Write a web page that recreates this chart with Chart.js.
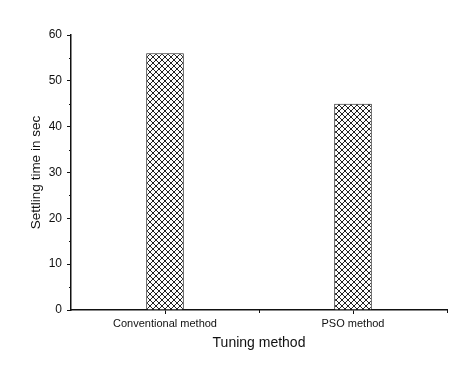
<!DOCTYPE html>
<html>
<head>
<meta charset="utf-8">
<script src="https://cdn.jsdelivr.net/npm/chart.js@4"></script>
<style>
html,body{margin:0;padding:0;background:#fff;}
#wrap{width:474px;height:383px;}
</style>
</head>
<body>
<div id="wrap"><canvas id="c" width="474" height="383"></canvas></div>
<script>
const categories = ["Conventional method", "PSO method"];
const settlingTime = [56, 45];
const yMin = 0, yMax = 60, yStep = 10;
const yMinorTicks = [5, 15, 25, 35, 45, 55];
const xMinorTicks = [0.5, 1.5];
const xTitle = "Tuning method";
const yTitle = "Settling time in sec";

function makeHatch() {
  const p = document.createElement('canvas');
  p.width = 6; p.height = 6;
  const g = p.getContext('2d');
  g.fillStyle = '#fff';
  g.fillRect(0, 0, 6, 6);
  g.strokeStyle = '#222';
  g.lineWidth = 1;
  g.beginPath();
  g.moveTo(0, 0); g.lineTo(6, 6);
  g.moveTo(6, 0); g.lineTo(0, 6);
  g.stroke();
  return document.getElementById('c').getContext('2d').createPattern(p, 'repeat');
}

const minorTicks = {
  id: 'minorTicks',
  afterDraw(chart) {
    const ctx = chart.ctx;
    const y = chart.scales.y, x = chart.scales.x;
    ctx.save();
    ctx.strokeStyle = '#111';
    ctx.lineWidth = 1;
    ctx.beginPath();
    yMinorTicks.forEach(v => {
      const py = Math.round(y.getPixelForValue(v)) + 0.5;
      ctx.moveTo(x.left - 2, py); ctx.lineTo(x.left, py);
    });
    xMinorTicks.forEach(v => {
      const px = Math.round(x.getPixelForValue(v)) + 0.5;
      ctx.moveTo(px, y.bottom); ctx.lineTo(px, y.bottom + 3);
    });
    ctx.stroke();
    ctx.restore();
  }
};

Chart.defaults.font.family = '"Liberation Sans", Arial, sans-serif';
Chart.defaults.color = '#111';

new Chart(document.getElementById('c'), {
  type: 'bar',
  data: {
    labels: categories,
    datasets: [{
      data: settlingTime,
      backgroundColor: makeHatch(),
      borderColor: '#222',
      borderWidth: 1,
      barPercentage: 0.2,
      categoryPercentage: 1.0
    }]
  },
  options: {
    responsive: false,
    animation: false,
    layout: { padding: { left: 24, top: 35, right: 27, bottom: 27 } },
    plugins: { legend: { display: false }, tooltip: { enabled: false } },
    scales: {
      x: {
        offset: true,
        afterFit(s) { s.height = 46; },
        grid: { display: true, drawOnChartArea: false, offset: false, tickLength: 4, color: '#111', lineWidth: 1 },
        border: { display: true, color: '#111', width: 1.5 },
        ticks: { font: { size: 11 }, padding: 3, maxRotation: 0, color: '#111' },
        title: { display: true, text: xTitle, font: { size: 14 }, color: '#111', padding: { top: 4, bottom: 4 } }
      },
      y: {
        min: yMin, max: yMax,
        afterFit(s) { s.width = 47; },
        grid: { display: true, drawOnChartArea: false, tickLength: 4, color: '#111', lineWidth: 1 },
        border: { display: true, color: '#111', width: 1.5 },
        ticks: { stepSize: yStep, font: { size: 12 }, padding: 5, color: '#111' },
        title: { display: true, text: yTitle, font: { size: 13.5 }, color: '#111', padding: { top: 4, bottom: 4 } }
      }
    }
  },
  plugins: [minorTicks]
});
</script>
</body>
</html>
